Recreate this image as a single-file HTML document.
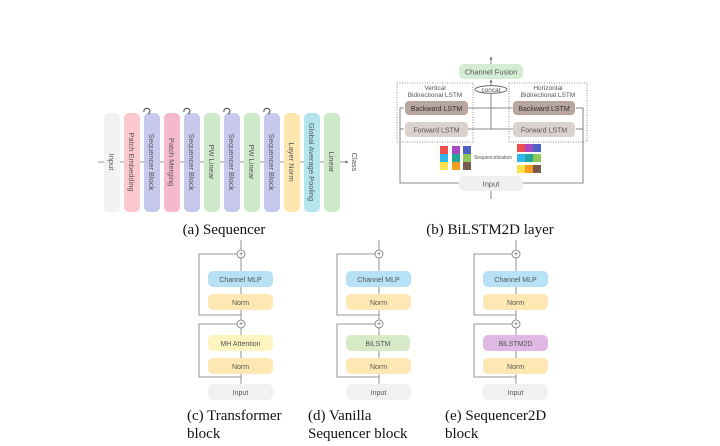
<!DOCTYPE html>
<html><head><style>
body{margin:0;background:#fff;}
svg{display:block;}
.s{font-family:"Liberation Sans",sans-serif;fill:#555;}
.cap{font-family:"Liberation Serif",serif;font-size:15px;fill:#111;}
</style></head><body>
<svg width="720" height="446" viewBox="0 0 720 446" xmlns="http://www.w3.org/2000/svg">
<defs>
<marker id="ar" viewBox="0 0 6 6" refX="5" refY="3" markerWidth="4" markerHeight="4" orient="auto"><path d="M0,0L6,3L0,6z" fill="#666"/></marker>
<g id="blk">
  <line x1="33" y1="-20" x2="33" y2="-10" stroke="#777" stroke-width="0.8"/>
  <circle cx="33" cy="-6" r="4" fill="#fff" stroke="#777" stroke-width="0.8"/>
  <text x="33" y="-4" font-size="7" text-anchor="middle" class="s">+</text>
  <rect x="0" y="11" width="65" height="16" rx="5" fill="#b7e1f5"/>
  <text x="32.5" y="22" font-size="7" text-anchor="middle" class="s">Channel MLP</text>
  <line x1="33" y1="11" x2="33" y2="-2" stroke="#777" stroke-width="0.8"/>
  <rect x="0" y="34" width="65" height="16" rx="5" fill="#fde8b4"/>
  <text x="32.5" y="45" font-size="7" text-anchor="middle" class="s">Norm</text>
  <line x1="33" y1="34" x2="33" y2="27" stroke="#777" stroke-width="0.8"/>
  <line x1="33" y1="60" x2="33" y2="50" stroke="#777" stroke-width="0.8"/>
  <circle cx="33" cy="64" r="4" fill="#fff" stroke="#777" stroke-width="0.8"/>
  <text x="33" y="66" font-size="7" text-anchor="middle" class="s">+</text>
  <polyline points="33,55 -9,55 -9,-6 29,-6" fill="none" stroke="#777" stroke-width="0.8"/>
  <line x1="33" y1="75" x2="33" y2="68" stroke="#777" stroke-width="0.8"/>
  <rect x="0" y="98" width="65" height="16" rx="5" fill="#fde8b4"/>
  <text x="32.5" y="109" font-size="7" text-anchor="middle" class="s">Norm</text>
  <line x1="33" y1="98" x2="33" y2="91" stroke="#777" stroke-width="0.8"/>
  <line x1="33" y1="124" x2="33" y2="114" stroke="#777" stroke-width="0.8"/>
  <polyline points="33,117 -9,117 -9,64 29,64" fill="none" stroke="#777" stroke-width="0.8"/>
  <rect x="0" y="124" width="65" height="16" rx="5" fill="#f1f1f1"/>
  <text x="32.5" y="135" font-size="7" text-anchor="middle" class="s">Input</text>
</g>
</defs>

<!-- (a) -->
<line x1="98" y1="162" x2="348" y2="162" stroke="#777" stroke-width="0.8" marker-end="url(#ar)"/>
<g font-size="7.5" class="s">
<rect x="104" y="113" width="16" height="99" rx="5" fill="#f2f2f2"/>
<rect x="124" y="113" width="16" height="99" rx="5" fill="#fcc8cf"/>
<rect x="144" y="113" width="16" height="99" rx="5" fill="#c6c9ec"/>
<rect x="164" y="113" width="16" height="99" rx="5" fill="#f4b9cc"/>
<rect x="184" y="113" width="16" height="99" rx="5" fill="#c6c9ec"/>
<rect x="204" y="113" width="16" height="99" rx="5" fill="#cde9c9"/>
<rect x="224" y="113" width="16" height="99" rx="5" fill="#c6c9ec"/>
<rect x="244" y="113" width="16" height="99" rx="5" fill="#cde9c9"/>
<rect x="264" y="113" width="16" height="99" rx="5" fill="#c6c9ec"/>
<rect x="284" y="113" width="16" height="99" rx="5" fill="#fde6b0"/>
<rect x="304" y="113" width="16" height="99" rx="5" fill="#b4e6ee"/>
<rect x="324" y="113" width="16" height="99" rx="5" fill="#cde9c9"/>
<text transform="translate(109,162) rotate(90)" text-anchor="middle">Input</text>
<text transform="translate(129,162) rotate(90)" text-anchor="middle">Patch Embedding</text>
<text transform="translate(149,162) rotate(90)" text-anchor="middle">Sequencer Block</text>
<text transform="translate(169,162) rotate(90)" text-anchor="middle">Patch Merging</text>
<text transform="translate(189,162) rotate(90)" text-anchor="middle">Sequencer Block</text>
<text transform="translate(209,162) rotate(90)" text-anchor="middle">PW Linear</text>
<text transform="translate(229,162) rotate(90)" text-anchor="middle">Sequencer Block</text>
<text transform="translate(249,162) rotate(90)" text-anchor="middle">PW Linear</text>
<text transform="translate(269,162) rotate(90)" text-anchor="middle">Sequencer Block</text>
<text transform="translate(289,162) rotate(90)" text-anchor="middle">Layer Norm</text>
<text transform="translate(309,162) rotate(90)" text-anchor="middle">Global Average Pooling</text>
<text transform="translate(329,162) rotate(90)" text-anchor="middle">Linear</text>
<text transform="translate(352,162) rotate(90)" text-anchor="middle">Class</text>
</g>
<g fill="none" stroke="#444" stroke-width="1">
<path d="M144,112 a3,3 0 1 1 4,2"/><path d="M184,112 a3,3 0 1 1 4,2"/>
<path d="M224,112 a3,3 0 1 1 4,2"/><path d="M264,112 a3,3 0 1 1 4,2"/>
</g>
<text x="224" y="234" class="cap" text-anchor="middle">(a) Sequencer</text>

<!-- (b) -->
<g stroke="#666" stroke-width="0.8" fill="none">
<line x1="491" y1="64" x2="491" y2="57" marker-end="url(#ar)"/>
<line x1="491" y1="86" x2="491" y2="80" marker-end="url(#ar)"/>
<line x1="491" y1="129" x2="491" y2="94"/>
<line x1="468" y1="108" x2="513" y2="108"/>
<line x1="468" y1="129" x2="513" y2="129"/>
<polyline points="459,183 400,183 400,108 404,108"/>
<line x1="400" y1="129" x2="404" y2="129"/>
<polyline points="523,183 583,183 583,108 576,108"/>
<line x1="583" y1="129" x2="576" y2="129"/>
<line x1="491" y1="191" x2="491" y2="199"/>
</g>
<rect x="397" y="83" width="76" height="59" fill="none" stroke="#8a6a6a" stroke-width="0.8" stroke-dasharray="1,1.5"/>
<rect x="509" y="83" width="78" height="59" fill="none" stroke="#8a6a6a" stroke-width="0.8" stroke-dasharray="1,1.5"/>
<rect x="459" y="64" width="64" height="15" rx="5" fill="#d4ecd4"/>
<text x="491" y="74.5" font-size="7.5" text-anchor="middle" class="s">Channel Fusion</text>
<ellipse cx="491" cy="89.5" rx="16" ry="3.8" fill="#fff" stroke="#556" stroke-width="0.8"/>
<text x="491" y="92" font-size="6.5" text-anchor="middle" class="s">concat</text>
<text x="435" y="90" font-size="6.5" text-anchor="middle" class="s">Vertical</text>
<text x="435" y="97" font-size="6.5" text-anchor="middle" class="s">Bidirectional LSTM</text>
<text x="548" y="90" font-size="6.5" text-anchor="middle" class="s">Horizontal</text>
<text x="548" y="97" font-size="6.5" text-anchor="middle" class="s">Bidirectional LSTM</text>
<rect x="405" y="101" width="63" height="14" rx="4" fill="#b9a69e"/>
<text x="436.5" y="111" font-size="7" text-anchor="middle" class="s" style="fill:#333">Backward LSTM</text>
<rect x="405" y="122" width="63" height="15" rx="4" fill="#dcd2cd"/>
<text x="436.5" y="132.5" font-size="7" text-anchor="middle" class="s">Forward LSTM</text>
<rect x="513" y="101" width="62" height="14" rx="4" fill="#b9a69e"/>
<text x="544" y="111" font-size="7" text-anchor="middle" class="s" style="fill:#333">Backward LSTM</text>
<rect x="513" y="122" width="62" height="15" rx="4" fill="#dcd2cd"/>
<text x="544" y="132.5" font-size="7" text-anchor="middle" class="s">Forward LSTM</text>
<!-- vertical seq squares -->
<g>
<rect x="440" y="146" width="8" height="8" fill="#ef4e4e"/><rect x="440" y="154" width="8" height="8" fill="#2fb5ee"/><rect x="440" y="162" width="8" height="8" fill="#fde14a"/>
<rect x="452" y="146" width="8" height="8" fill="#a749c3"/><rect x="452" y="154" width="8" height="8" fill="#22a89a"/><rect x="452" y="162" width="8" height="8" fill="#f99d1c"/>
<rect x="463" y="146" width="8" height="8" fill="#4e61c4"/><rect x="463" y="154" width="8" height="8" fill="#8dc858"/><rect x="463" y="162" width="8" height="8" fill="#7a5a4e"/>
<text x="493" y="159" font-size="5" text-anchor="middle" class="s">Sequencelization</text>
<rect x="517" y="144" width="8" height="8" fill="#ef4e4e"/><rect x="525" y="144" width="8" height="8" fill="#a749c3"/><rect x="533" y="144" width="8" height="8" fill="#4e61c4"/>
<rect x="517" y="154" width="8" height="8" fill="#2fb5ee"/><rect x="525" y="154" width="8" height="8" fill="#22a89a"/><rect x="533" y="154" width="8" height="8" fill="#8dc858"/>
<rect x="517" y="165" width="8" height="8" fill="#fde14a"/><rect x="525" y="165" width="8" height="8" fill="#f99d1c"/><rect x="533" y="165" width="8" height="8" fill="#7a5a4e"/>
</g>
<rect x="459" y="176" width="64" height="15" rx="5" fill="#f0f0f0"/>
<text x="491" y="186.5" font-size="7.5" text-anchor="middle" class="s">Input</text>
<text x="490" y="234" class="cap" text-anchor="middle">(b) BiLSTM2D layer</text>

<!-- (c)(d)(e) -->
<use href="#blk" transform="translate(208,260)"/>
<use href="#blk" transform="translate(346,260)"/>
<use href="#blk" transform="translate(483,260)"/>
<rect x="208" y="335" width="65" height="16" rx="5" fill="#fdf4bf"/>
<text x="240.5" y="346" font-size="7" text-anchor="middle" class="s">MH Attention</text>
<rect x="346" y="335" width="64" height="16" rx="5" fill="#d6eac8"/>
<text x="378" y="346" font-size="7" text-anchor="middle" class="s">BiLSTM</text>
<rect x="483" y="335" width="65" height="16" rx="5" fill="#e0b8e4"/>
<text x="515.5" y="346" font-size="7" text-anchor="middle" class="s">BiLSTM2D</text>
<text x="187" y="420" class="cap">(c) Transformer</text>
<text x="187" y="438" class="cap">block</text>
<text x="308" y="420" class="cap">(d) Vanilla</text>
<text x="308" y="438" class="cap">Sequencer block</text>
<text x="445" y="420" class="cap">(e) Sequencer2D</text>
<text x="445" y="438" class="cap">block</text>
</svg>
</body></html>
